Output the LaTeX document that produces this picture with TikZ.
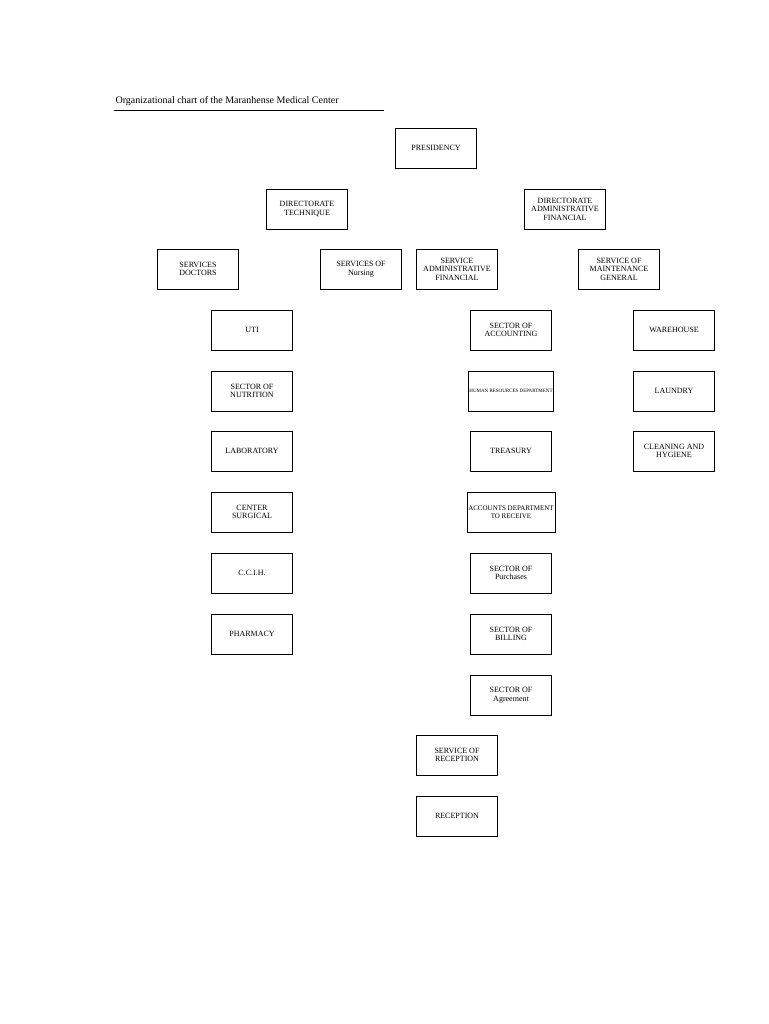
\documentclass[tikz,border=0pt]{standalone}
\usepackage{fontspec}
\setmainfont{Liberation Serif}
\begin{document}
\begin{tikzpicture}
  [x=1pt,y=-1pt,every node/.style={align=center,font=\fontsize{8}{8.5}\selectfont},
   unit/.style={draw,thin,minimum width=81pt,minimum height=40pt,inner sep=1pt}]
  \useasboundingbox (0,0) rectangle (768,1024);
  \node[anchor=west,font=\fontsize{10}{11}\selectfont] (title) at (112,101) {Organizational chart of the Maranhense Medical Center};
  \draw[thin] (114,110) -- (384,110);

  \node[unit] (pres) at (436,148) {PRESIDENCY};
  \node[unit] (dtec) at (307,209) {DIRECTORATE\\TECHNIQUE};
  \node[unit] (dadm) at (565,209) {DIRECTORATE\\ADMINISTRATIVE\\FINANCIAL};
  \node[unit] (sdoc) at (198,269) {SERVICES\\DOCTORS};
  \node[unit] (snur) at (361,269) {SERVICES OF\\Nursing};
  \node[unit] (sadm) at (457,269) {SERVICE\\ADMINISTRATIVE\\FINANCIAL};
  \node[unit] (smnt) at (619,269) {SERVICE OF\\MAINTENANCE\\GENERAL};

  \node[unit] (uti) at (252,330) {UTI};
  \node[unit] (nutr) at (252,391) {SECTOR OF\\NUTRITION};
  \node[unit] (lab) at (252,451) {LABORATORY};
  \node[unit] (surg) at (252,512) {CENTER\\SURGICAL};
  \node[unit] (ccih) at (252,573) {C.C.I.H.};
  \node[unit] (phar) at (252,634) {PHARMACY};

  \node[unit] (acct) at (511,330) {SECTOR OF\\ACCOUNTING};
  \node[unit,font=\fontsize{5}{6}\selectfont] (hr) at (511,391) {HUMAN RESOURCES DEPARTMENT};
  \node[unit] (trea) at (511,451) {TREASURY};
  \node[unit,font=\fontsize{7}{8}\selectfont] (recv) at (511,512) {ACCOUNTS DEPARTMENT\\TO RECEIVE};
  \node[unit] (purc) at (511,573) {SECTOR OF\\Purchases};
  \node[unit] (bill) at (511,634) {SECTOR OF\\BILLING};
  \node[unit] (agre) at (511,695) {SECTOR OF\\Agreement};
  \node[unit] (srec) at (457,755) {SERVICE OF\\RECEPTION};
  \node[unit] (rec) at (457,816) {RECEPTION};

  \node[unit] (ware) at (674,330) {WAREHOUSE};
  \node[unit] (laun) at (674,391) {LAUNDRY};
  \node[unit] (clea) at (674,451) {CLEANING AND\\HYGIENE};
\end{tikzpicture}
\end{document}
